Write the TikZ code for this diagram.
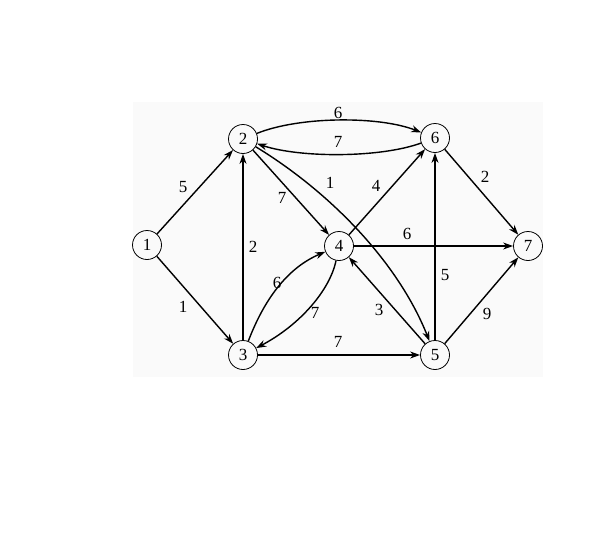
\documentclass[tikz,border=0pt]{standalone}
\usepackage{fontspec}
\setmainfont{Liberation Serif}
\usetikzlibrary{arrows.meta}
\begin{document}
\begin{tikzpicture}[x=1pt,y=-1pt,
  vert/.style={circle,draw,line width=0.8pt,minimum size=29pt,inner sep=0pt,font=\fontsize{17}{17}\selectfont},
  edge/.style={draw,line width=1.4pt,-{Stealth[length=10pt,width=7pt]}},
  lab/.style={inner sep=0pt,font=\fontsize{17}{17}\selectfont}]
\useasboundingbox (0,0) rectangle (613,557);
\fill[black!2] (133,102) rectangle (543,377);
\node[vert] (n1) at (147,245) {1};
\node[vert] (n2) at (243,139) {2};
\node[vert] (n3) at (243,355) {3};
\node[vert] (n4) at (339,246) {4};
\node[vert] (n5) at (435,355) {5};
\node[vert] (n6) at (435,138) {6};
\node[vert] (n7) at (528,246) {7};
% straight edges
\draw[edge] (n1) -- (n2);
\draw[edge] (n1) -- (n3);
\draw[edge] (n3) -- (n2);
\draw[edge] (n2) -- (n4);
\draw[edge] (n4) -- (n6);
\draw[edge] (n4) -- (n7);
\draw[edge] (n5) -- (n6);
\draw[edge] (n5) -- (n4);
\draw[edge] (n3) -- (n5);
\draw[edge] (n5) -- (n7);
\draw[edge] (n6) -- (n7);
% curved edges
\draw[edge] (n2) .. controls (300,116) and (380,116) .. (n6);
\draw[edge] (n6) .. controls (380,158) and (300,158) .. (n2);
\draw[edge] (n2) .. controls (330,192) and (398,262) .. (n5);
\draw[edge] (n3) .. controls (264,300) and (287,268) .. (n4);
\draw[edge] (n4) .. controls (330,290) and (300,325) .. (n3);
% labels
\node[lab] (l12) at (183,187) {5};
\node[lab] (l13) at (183,307) {1};
\node[lab] (l32) at (253,247) {2};
\node[lab] (l26) at (338,113) {6};
\node[lab] (l62) at (338,142) {7};
\node[lab] (l24) at (282,198) {7};
\node[lab] (l25) at (330,183) {1};
\node[lab] (l46) at (376,186) {4};
\node[lab] (l47) at (407,234) {6};
\node[lab] (l67) at (485,177) {2};
\node[lab] (l56) at (445,275) {5};
\node[lab] (l54) at (379,310) {3};
\node[lab] (l57) at (487,314) {9};
\node[lab] (l35) at (338,342) {7};
\node[lab] (l34) at (277,283) {6};
\node[lab] (l43) at (315,313) {7};
\end{tikzpicture}
\end{document}
